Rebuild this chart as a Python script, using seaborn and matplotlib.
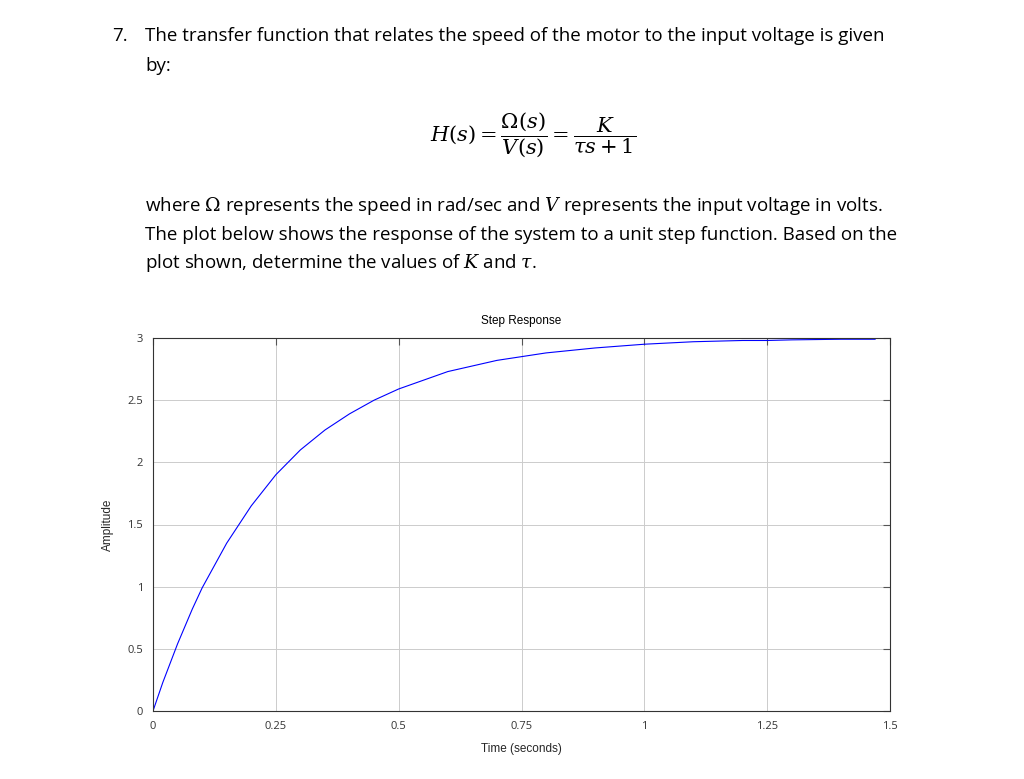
import numpy as np
import matplotlib
matplotlib.use("Agg")
import matplotlib.pyplot as plt
import seaborn as sns

# step response
t = [0, 0.02, 0.05, 0.08, 0.1, 0.15, 0.2, 0.25, 0.3, 0.35, 0.4, 0.45, 0.5,
     0.6, 0.7, 0.75, 0.8, 0.9, 1.0, 1.1, 1.2, 1.25, 1.3, 1.4, 1.47]
amp = [0, 0.23, 0.54, 0.82, 0.99, 1.35, 1.65, 1.90, 2.10, 2.26, 2.39, 2.50, 2.59,
       2.73, 2.82, 2.85, 2.88, 2.92, 2.95, 2.97, 2.98, 2.98, 2.985, 2.99, 2.99]
xticks = [0, 0.25, 0.5, 0.75, 1, 1.25, 1.5]
xlabels = ["0", "0.25", "0.5", "0.75", "1", "1.25", "1.5"]
yticks = [0, 0.5, 1, 1.5, 2, 2.5, 3]
ylabels = ["0", "0.5", "1", "1.5", "2", "2.5", "3"]

sns.set_style("white")
plt.rcParams["font.family"] = ["Open Sans", "DejaVu Sans"]
plt.rcParams["mathtext.fontset"] = "dejavuserif"
plt.rcParams["text.color"] = "black"

fig = plt.figure(figsize=(10.24, 7.79), dpi=100)

tx = 145 / 1024
def ytxt(py):
    return 1 - py / 779

fs = 13.5
fig.text(112 / 1024, ytxt(36), "7.", fontsize=fs, va="center")
fig.text(tx, ytxt(36), "The transfer function that relates the speed of the motor to the input voltage is given", fontsize=fs, va="center")
fig.text(tx, ytxt(66), "by:", fontsize=fs, va="center")
fig.text(430 / 1024, ytxt(135), r"$H(s) = \dfrac{\Omega(s)}{V(s)} = \dfrac{K}{\tau s + 1}$", fontsize=15, va="center")
fig.text(tx, ytxt(206), r"where $\Omega$ represents the speed in rad/sec and $V$ represents the input voltage in volts.", fontsize=fs, va="center")
fig.text(tx, ytxt(235), "The plot below shows the response of the system to a unit step function. Based on the", fontsize=fs, va="center")
fig.text(tx, ytxt(263), r"plot shown, determine the values of $K$ and $\tau$.", fontsize=fs, va="center")

ax = fig.add_axes([153 / 1024, 68 / 779, 737 / 1024, 373 / 779])
sns.lineplot(x=t, y=amp, ax=ax, color="blue", linewidth=0.8)
ax.set_xlim(0, 1.5)
ax.set_ylim(0, 3)
ax.set_xticks(xticks, xlabels)
ax.set_yticks(yticks, ylabels)
ax.grid(True, color="#cccccc", linewidth=0.7)
ax.tick_params(direction="in", labelsize=8, length=5, pad=7, top=True, right=True,
               colors="#555555", labelcolor="#333333")
for s in ax.spines.values():
    s.set_color("#333333")
    s.set_linewidth(0.8)
ax.set_xlabel("Time (seconds)", fontsize=8.5, family="Liberation Sans", labelpad=8)
ax.set_ylabel("Amplitude", fontsize=8.5, family="Liberation Sans", labelpad=10)
ax.set_title("Step Response", fontsize=8.5, family="Liberation Sans", pad=10)

fig.savefig("out.png", dpi=100, facecolor="white")
